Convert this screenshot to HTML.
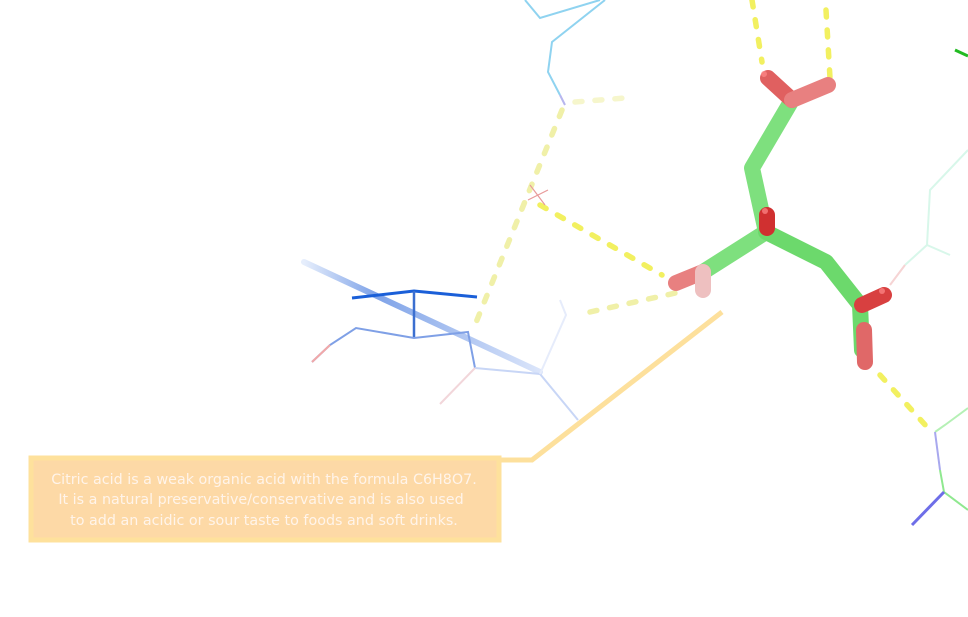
<!DOCTYPE html>
<html><head><style>
html,body{margin:0;padding:0;background:#fff;}
svg{display:block}
</style></head><body>
<svg width="968" height="617" viewBox="0 0 968 617" xmlns="http://www.w3.org/2000/svg">
<defs>
<linearGradient id="fadeB" x1="0" y1="0" x2="1" y2="0">
<stop offset="0" stop-color="#e6eefc"/><stop offset="0.3" stop-color="#7fa3e8"/><stop offset="1" stop-color="#dbe5fa"/>
</linearGradient>
</defs>
<g fill="none" stroke="#8fd3f0" stroke-width="2">
<polyline points="525,0 540,18 600,0"/>
<polyline points="605,0 552,42 548,72 560,95"/>
<polyline points="560,95 565,105" stroke="#b7b6ee"/>
</g>
<g fill="none" stroke="#d8f7ea" stroke-width="2">
<polyline points="968,150 930,190 927,245 905,265"/>
<polyline points="927,245 950,255"/>
<polyline points="905,265 890,285" stroke="#f6d4d4"/>
</g>
<line x1="955" y1="50" x2="968" y2="56" stroke="#22bb22" stroke-width="3"/>
<g fill="none" stroke-width="2">
<polyline points="968,408 945,425 935,432" stroke="#b5f0b5"/>
<polyline points="935,432 940,470" stroke="#a8a8ee"/>
<polyline points="940,470 944,492 968,510" stroke="#8fe88f"/>
<polyline points="944,492 912,525" stroke="#6e6ee8" stroke-width="3"/>
</g>
<g fill="none">
<line x1="304" y1="262" x2="540" y2="372" stroke="url(#fadeB)" stroke-width="6" stroke-linecap="round"/>
<polyline points="352,298 414,291 477,297" stroke="#1a5fd8" stroke-width="3"/>
<line x1="414" y1="291" x2="414" y2="338" stroke="#3b6fd0" stroke-width="2.5"/>
<polyline points="312,362 330,345 356,328 414,338 468,332 475,368" stroke="#7fa0e6" stroke-width="2"/>
<polyline points="312,362 330,345" stroke="#f2a8a8" stroke-width="2"/>
<polyline points="475,368 540,374 578,420" stroke="#c8d6f6" stroke-width="2"/>
<polyline points="475,368 440,404" stroke="#f2d6da" stroke-width="2"/>
<polyline points="540,374 566,315 560,300" stroke="#e6ecfb" stroke-width="2"/>
</g>
<g fill="none" stroke="#f2f060" stroke-width="5.5" stroke-linecap="round" stroke-dasharray="7,13">
<line x1="752" y1="0" x2="762" y2="62"/>
<line x1="826" y1="10" x2="830" y2="78"/>
<line x1="540" y1="205" x2="662" y2="275"/>
<line x1="880" y1="375" x2="928" y2="428"/>
</g>
<g fill="none" stroke="#f0f0a8" stroke-width="5.5" stroke-linecap="round" stroke-dasharray="7,13">
<line x1="562" y1="110" x2="475" y2="325"/>
<line x1="590" y1="312" x2="680" y2="292"/>
<line x1="575" y1="102" x2="625" y2="98" stroke="#f6f6cc"/>
</g>
<g stroke="#e89a9a" stroke-width="1.2"><line x1="530" y1="185" x2="545" y2="205"/><line x1="528" y1="200" x2="548" y2="190"/></g>
<polyline points="29,460 532,460 722,312" fill="none" stroke="#fde09c" stroke-width="5"/>
<g fill="none" stroke-linecap="round" stroke-linejoin="round">
<polyline points="792,100 752,168 766,232 703,272" stroke="#7ee07e" stroke-width="16"/>
<polyline points="766,232 826,262 860,305 862,350" stroke="#6cd96c" stroke-width="16"/>
<line x1="792" y1="100" x2="768" y2="78" stroke="#e06060" stroke-width="16"/>
<line x1="792" y1="100" x2="828" y2="85" stroke="#e88080" stroke-width="16"/>
<line x1="703" y1="272" x2="676" y2="283" stroke="#e88080" stroke-width="16"/>
<line x1="703" y1="272" x2="703" y2="290" stroke="#eec0c0" stroke-width="16"/>
<line x1="862" y1="305" x2="884" y2="295" stroke="#d84040" stroke-width="16"/>
<line x1="864" y1="330" x2="865" y2="362" stroke="#e06868" stroke-width="16"/>
<line x1="767" y1="215" x2="767" y2="228" stroke="#d03030" stroke-width="16"/>
</g>
<g fill="#ff8a8a" opacity="0.7">
<circle cx="764" cy="74" r="3"/><circle cx="765" cy="211" r="3"/><circle cx="882" cy="291" r="3"/>
</g>
<rect x="31" y="458" width="468" height="82" fill="#fdd9a6" stroke="#fee19c" stroke-width="5"/>
<g font-family="DejaVu Sans, Liberation Sans, sans-serif" font-size="14.3" fill="#fff4ea" text-anchor="middle">
<text x="264" y="484">Citric acid is a weak organic acid with the formula C6H8O7.</text>
<text x="261" y="504">It is a natural preservative/conservative and is also used</text>
<text x="264" y="525">to add an acidic or sour taste to foods and soft drinks.</text>
</g>
</svg>
</body></html>
